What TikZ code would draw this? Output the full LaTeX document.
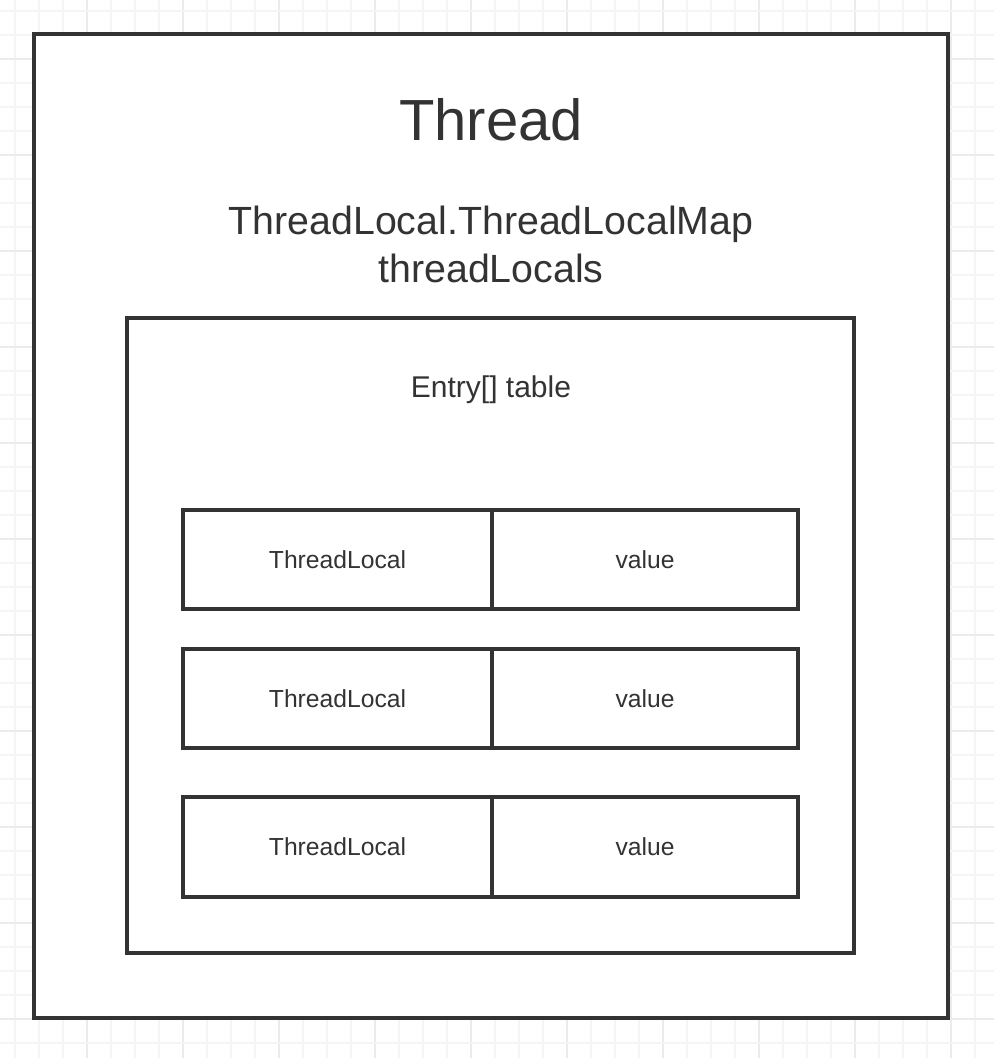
\documentclass[tikz,border=0pt]{standalone}
\usepackage{fontspec}
\setmainfont{Liberation Sans}
\definecolor{ink}{HTML}{333333}
\definecolor{gridminor}{HTML}{F5F5F5}
\definecolor{gridmajor}{HTML}{EBEBEB}
\begin{document}
\begin{tikzpicture}[x=0.75pt, y=-0.75pt, ink,
    box/.style={draw=ink, line width=2.4pt, rectangle, inner sep=0pt},
    cell/.style={box, minimum height=74.25pt, font=\fontsize{18.5}{22}\selectfont},
    key cell/.style={cell, minimum width=231.75pt},
    val cell/.style={cell, minimum width=229.5pt}]

                    \useasboundingbox (0,0) rectangle (994,1058);
                    % background grid
                    \foreach \k in {0,...,41} {
                        \pgfmathtruncatemacro{\m}{mod(\k,4)}
                        \ifnum\m=3 \def\gc{gridmajor}\else\def\gc{gridminor}\fi
                        \draw[\gc, line width=1pt] (15+24*\k,0) -- (15+24*\k,1058);
                    }
                    \foreach \k in {0,...,43} {
                        \pgfmathtruncatemacro{\m}{mod(\k,4)}
                        \ifnum\m=2 \def\gc{gridmajor}\else\def\gc{gridminor}\fi
                        \draw[\gc, line width=1pt] (0,11+24*\k) -- (994,11+24*\k);
                    }

                    \node[box, fill=white, minimum width=685.5pt, minimum height=738pt] at (491, 526) (thread) {};
                    \node[font=\fontsize{43.5}{50}\selectfont] at (491, 120) (threadlabel) {Thread};
                    \node[align=center, font=\fontsize{29.5}{36}\selectfont] at (491, 244) (maplabel) {ThreadLocal.ThreadLocalMap\\threadLocals};

                    \node[box, minimum width=545.25pt, minimum height=476.25pt] at (490.5, 635.5) (table) {};
                    \node[font=\fontsize{22.5}{26}\selectfont] at (491, 390) (tablelabel) {Entry[] table};

                    \node[key cell] at (337.5, 559.5) (key1) {ThreadLocal};
                    \node[val cell] at (645, 559.5) (val1) {value};
                    \node[key cell] at (337.5, 698.5) (key2) {ThreadLocal};
                    \node[val cell] at (645, 698.5) (val2) {value};
                    \node[key cell, minimum height=75pt] at (337.5, 847) (key3) {ThreadLocal};
                    \node[val cell, minimum height=75pt] at (645, 847) (val3) {value};

                \end{tikzpicture}
\end{document}
